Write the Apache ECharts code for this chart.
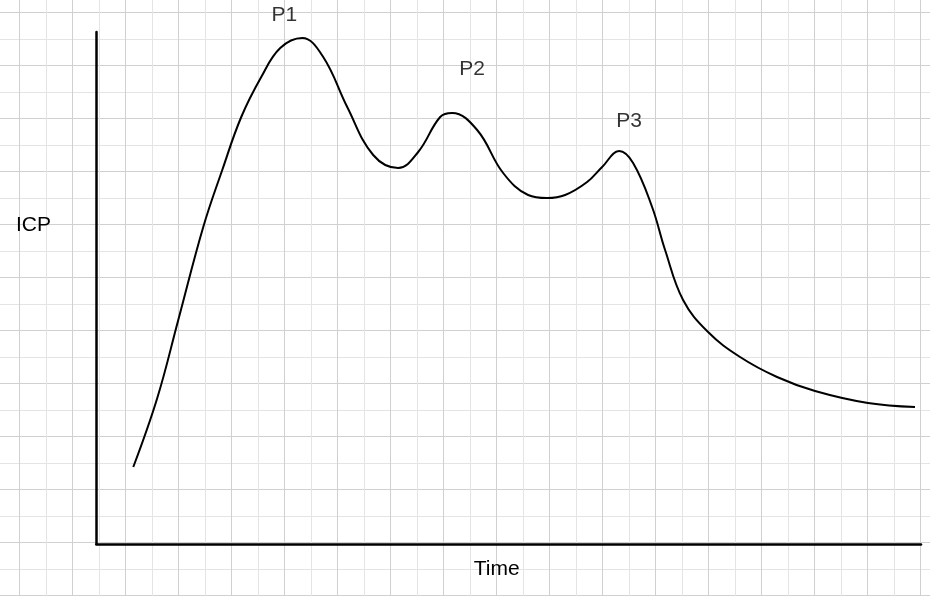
<!DOCTYPE html>
<html>
<head>
<meta charset="utf-8">
<style>
  html, body { margin: 0; padding: 0; background: #ffffff; }
  #chart { width: 930px; height: 596px; }
</style>
<script src="https://cdn.jsdelivr.net/npm/echarts@6/dist/echarts.min.js"></script>
</head>
<body>
<div id="chart"></div>
<script>
// ICP waveform (time and pressure in arbitrary units)
var timeValues = [37,61,82,107,126,145,165,184,206,227,251,277,302,322,344,356,381,407,432,451,469,491,506,523,537,556,569,587,612,644,681,719,772,819];
var icpValues  = [77,146,224,317,374,427,467,496,506,487,437,389,376,392,427,431,414,371,349,346,349,362,377,393,381,337,294,244,212,187,167,153,141,137];
var peakNames = ['P1', 'P2', 'P3'];
var peakIndex = [8, 15, 23];
var xAxisName = 'Time';
var yAxisName = 'ICP';

var curve = timeValues.map(function (t, i) { return [t, icpValues[i]]; });
var peakLabelStyles = [
  { distance: 12, offset: [-18, 0] },
  { distance: 33, offset: [20, 0] },
  { distance: 19, offset: [10, 0] }
];
var peaks = peakIndex.map(function (idx, k) {
  return {
    value: [timeValues[idx], icpValues[idx]],
    name: peakNames[k],
    label: {
      show: true,
      position: 'top',
      distance: peakLabelStyles[k].distance,
      offset: peakLabelStyles[k].offset,
      formatter: peakNames[k]
    }
  };
});

var font = '"Liberation Sans", Arial, Helvetica, sans-serif';
var majorColor = '#d0d0d0';
var minorColor = '#e4e4e4';
var hiddenAxis = {
  axisLine: { show: false }, axisTick: { show: false }, axisLabel: { show: false }, splitLine: { show: false }
};
function paperAxis(gridIndex, maxVal) {
  return {
    gridIndex: gridIndex, type: 'value', min: 0, max: maxVal, interval: 1,
    axisLine: { show: false }, axisTick: { show: false }, axisLabel: { show: false },
    splitLine: { show: true, lineStyle: { color: majorColor, width: 1 } },
    minorTick: { show: false, splitNumber: 2 },
    minorSplitLine: { show: true, lineStyle: { color: minorColor, width: 1 } }
  };
}

var chart = echarts.init(document.getElementById('chart'), null, { renderer: 'canvas' });
chart.setOption({
  animation: false,
  backgroundColor: '#ffffff',
  title: {
    text: yAxisName, left: 16, top: 215, padding: 0,
    textStyle: { color: '#000', fontSize: 21, fontWeight: 'normal', fontFamily: font }
  },
  grid: [
    { left: 19.3, top: 0, width: 901.4, height: 596 },
    { left: 0, top: 12.3, width: 930, height: 583 },
    { left: 96.3, right: 9, top: 32, bottom: 52 }
  ],
  xAxis: [
    paperAxis(0, 17),
    Object.assign({ gridIndex: 1, type: 'value', min: 0, max: 1 }, hiddenAxis),
    {
      gridIndex: 2, type: 'value', min: 0, max: 825,
      axisLine: { show: true, onZero: false, lineStyle: { color: '#000', width: 2.5 } },
      axisTick: { show: false }, axisLabel: { show: false }, splitLine: { show: false },
      name: xAxisName, nameLocation: 'middle', nameGap: 15,
      nameTextStyle: { color: '#000', fontSize: 21, fontFamily: font, padding: [0, 24, 0, 0], verticalAlign: 'top' }
    }
  ],
  yAxis: [
    Object.assign({ gridIndex: 0, type: 'value', min: 0, max: 1 }, hiddenAxis),
    paperAxis(1, 11),
    {
      gridIndex: 2, type: 'value', min: 0, max: 512,
      axisLine: { show: true, onZero: false, lineStyle: { color: '#000', width: 2.5 } },
      axisTick: { show: false }, axisLabel: { show: false }, splitLine: { show: false }
    }
  ],
  series: [
    {
      type: 'line', xAxisIndex: 2, yAxisIndex: 2,
      data: curve, smooth: 0.4, symbol: 'none', showSymbol: false,
      lineStyle: { color: '#000', width: 2 }, silent: true
    },
    {
      type: 'scatter', xAxisIndex: 2, yAxisIndex: 2,
      data: peaks, symbolSize: 0, silent: true,
      label: { show: true, color: '#000', fontSize: 21, fontFamily: font }
    }
  ]
});
</script>
</body>
</html>
